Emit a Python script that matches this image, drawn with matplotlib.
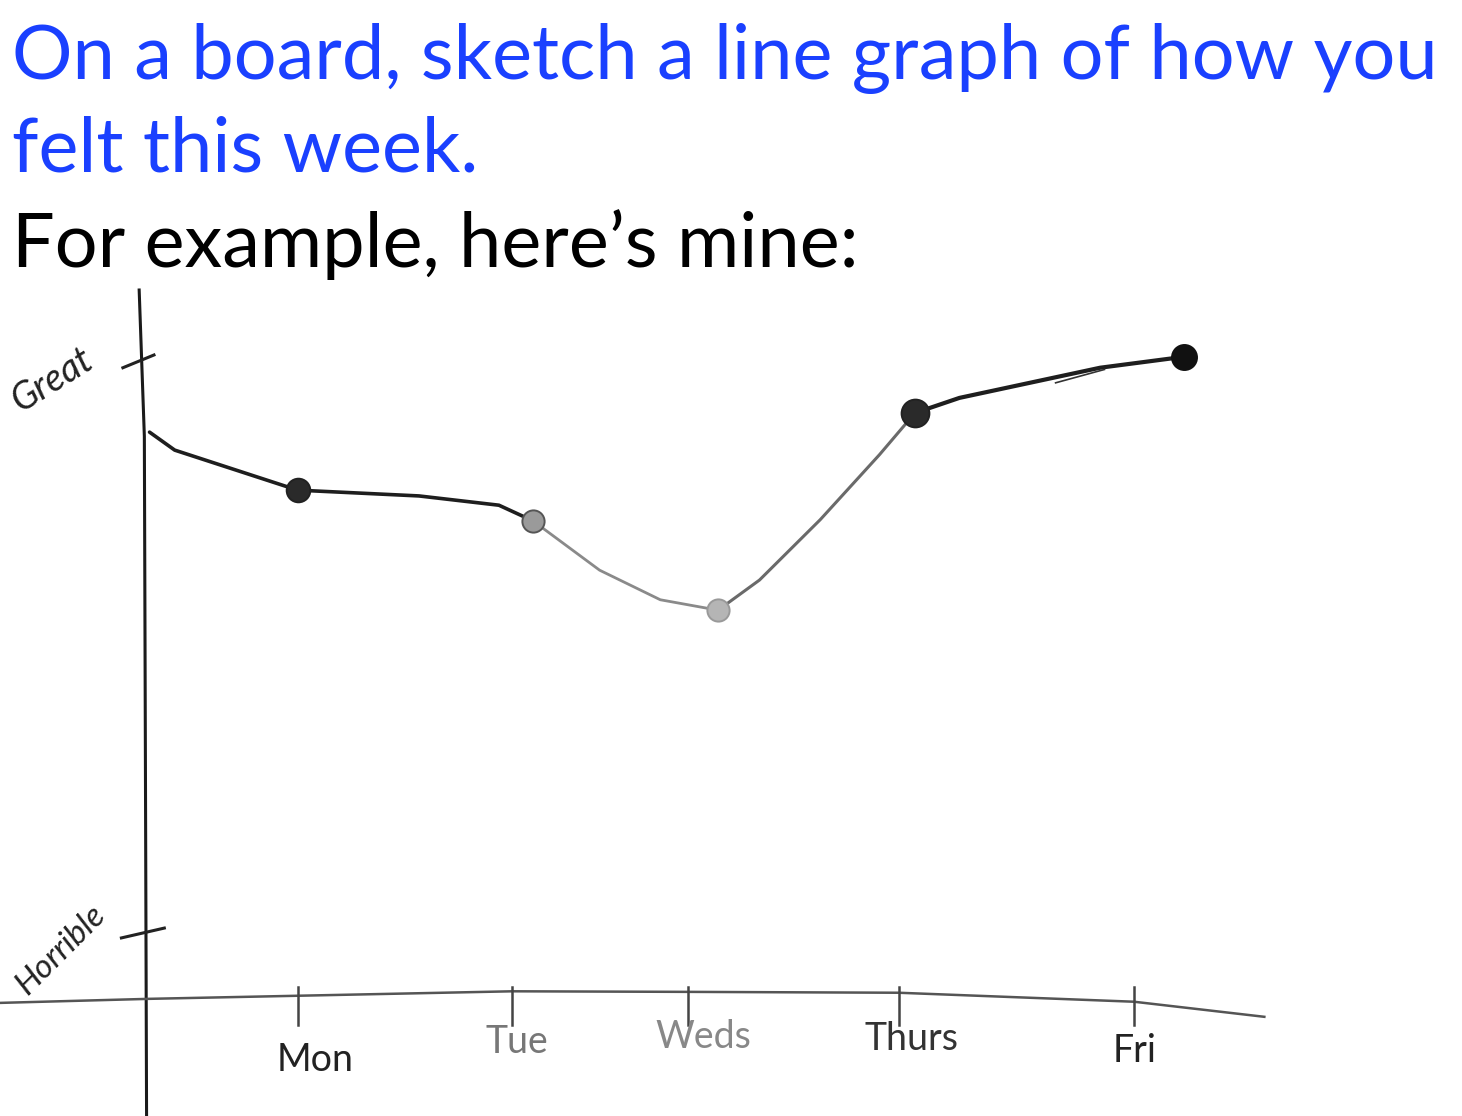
import matplotlib
matplotlib.use("Agg")
import matplotlib.pyplot as plt

# mood scale: 0 = Horrible, 10 = Great
# x positions in "day units" (Mon = 1)
days = ["Mon", "Tue", "Weds", "Thurs", "Fri"]
day_ticks = [1.0, 2.45, 3.64, 5.06, 6.65]
day_label_x = [1.12, 2.48, 3.74, 5.15, 6.65]
day_label_y = [-2.15, -1.85, -1.75, -1.8, -2.0]
day_label_col = ["#222222", "#777777", "#888888", "#333333", "#222222"]

# the dots
point_x = [1.0, 2.59, 3.84, 5.17, 6.99]
mood = [7.67, 7.14, 5.6, 9.0, 9.97]
dot_colors = ["#2a2a2a", "#9a9a9a", "#b5b5b5", "#2a2a2a", "#111111"]
dot_edges = ["#222222", "#555555", "#999999", "#222222", "#111111"]
dot_sizes = [17, 16, 16, 20, 18]

# pen trace of the line, split by pencil darkness
trace_x = [
    [0.0, 0.17, 1.0, 1.82, 2.36, 2.59],
    [2.59, 3.04, 3.45, 3.84],
    [3.84, 4.12, 4.53, 4.93, 5.17],
    [5.17, 5.47, 6.42, 6.99],
]
trace_y = [
    [8.67, 8.36, 7.67, 7.57, 7.41, 7.14],
    [7.14, 6.29, 5.78, 5.6],
    [5.6, 6.12, 7.16, 8.28, 9.0],
    [9.0, 9.26, 9.78, 9.97],
]
trace_col = ["#1e1e1e", "#8a8a8a", "#6a6a6a", "#1e1e1e"]
trace_lw = [2.6, 2.0, 2.2, 3.0]

# hand-drawn x axis
xaxis_x = [-1.01, 0.0, 2.45, 3.64, 5.06, 6.65, 7.53]
xaxis_y = [-1.17, -1.10, -0.97, -0.98, -0.995, -1.15, -1.41]

blue = "#1a40ff"

fig = plt.figure(figsize=(14.62, 11.16), dpi=100)
W, H = 1462, 1116

fig.text(12 / W, 1 - 79 / H, "On a board, sketch a line graph of how you",
         color=blue, fontsize=54.5, family="Lato", va="baseline", ha="left")
fig.text(12 / W, 1 - 172 / H, "felt this week.",
         color=blue, fontsize=54.5, family="Lato", va="baseline", ha="left")
fig.text(12 / W, 1 - 267 / H, "For example, here\u2019s mine:",
         color="black", fontsize=54.5, family="Lato", va="baseline", ha="left")

ax = fig.add_axes([0, 0, 1, 1])
ax.set_xlim(-1.01, 8.865)
ax.set_ylim(-3.12, 16.12)
ax.axis("off")

# axes of the sketch
ax.plot([-0.07, -0.035, -0.02], [11.12, 8.6, -3.12], color="#1a1a1a", lw=2.2)
ax.plot(xaxis_x, xaxis_y, color="#555555", lw=1.8)

# y ticks
ax.plot([-0.18, 0.03], [9.78, 10.0], color="#222222", lw=2.2)
ax.plot([-0.19, 0.10], [-0.05, 0.12], color="#222222", lw=2.2)
ax.text(-0.66, 9.57, "Great", rotation=32, fontsize=27, family="Lato",
        style="italic", color="#222222", ha="center", va="center")
ax.text(-0.6, -0.26, "Horrible", rotation=45, fontsize=24, family="Lato",
        style="italic", color="#222222", ha="center", va="center")

# day ticks + labels
for i, d in enumerate(days):
    ax.plot([day_ticks[i], day_ticks[i]], [-0.9, -1.55], color="#444444", lw=1.8)
    ax.text(day_label_x[i], day_label_y[i], d, fontsize=27, family="Lato",
            color=day_label_col[i], ha="center", va="center")

# the mood line
for xs, ys, c, lw in zip(trace_x, trace_y, trace_col, trace_lw):
    ax.plot(xs, ys, color=c, lw=lw, solid_capstyle="round",
            solid_joinstyle="round")
# small stray pencil stroke below the Thurs-Fri segment
ax.plot([6.12, 6.45], [9.52, 9.75], color="#333333", lw=1.2)

for i in range(len(point_x)):
    ax.plot(point_x[i], mood[i], "o", ms=dot_sizes[i], color=dot_colors[i],
            markeredgecolor=dot_edges[i], mew=1.4)

fig.savefig("out.png", dpi=100, facecolor="white")
